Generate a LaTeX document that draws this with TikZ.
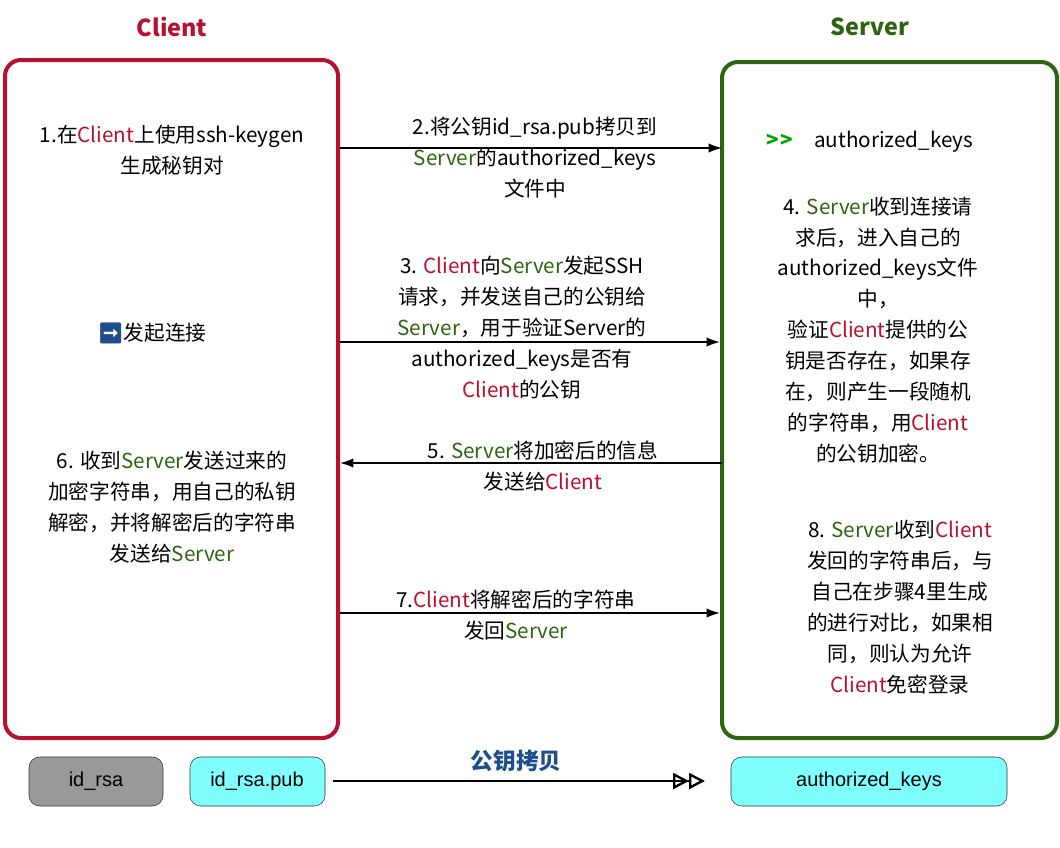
\documentclass[tikz,border=0pt]{standalone}
\usepackage{fontspec}
\setmainfont{Noto Sans CJK SC}
\newfontfamily\emo{Noto Emoji}
\newfontfamily\arialf{Liberation Sans}
\usetikzlibrary{arrows.meta}
\definecolor{cred}{HTML}{B8102E}
\definecolor{cgreen}{HTML}{2E6410}
\definecolor{ccyan}{HTML}{80FFFF}
\definecolor{cblue}{HTML}{1F4E8C}
\newcommand{\cl}{\textcolor{cred}{Client}}
\newcommand{\sv}{\textcolor{cgreen}{Server}}
\begin{document}
\begin{tikzpicture}[x=0.75pt,y=-0.75pt,
  txt/.style={align=center,font=\fontsize{15.5pt}{23.2pt}\selectfont,inner sep=0pt},
  title/.style={font=\fontsize{17.5pt}{20pt}\selectfont\bfseries},
  sidebox/.style={line width=3pt,rounded corners=12pt},
  conn/.style={-{Latex[length=10pt,width=7pt]},line width=1.2pt},
  keybox/.style={draw=black!80,rounded corners=8pt,font=\arialf\fontsize{15pt}{17pt}\selectfont}]
\useasboundingbox (0,0) rectangle (1060,847);
\node[title,text=cred] (ct) at (172,27) {Client};
\node[title,text=cgreen] (st) at (870,27) {Server};
\draw[sidebox,draw=cred] (5,60) rectangle (338,738);
\draw[sidebox,draw=cgreen] (722,62) rectangle (1057,738);
\node[txt] (t1) at (172,150) {1.在\cl{}上使用ssh-keygen\\生成秘钥对};
\node[txt] (t0) at (152,333) {\textcolor{cblue}{\emo ➡}发起连接};
\node[txt] (t6) at (172,507) {6. 收到\sv{}发送过来的\\加密字符串，用自己的私钥\\解密，并将解密后的字符串\\发送给\sv};
\node[txt] (tk) at (870,142) {\textcolor{green!65!black}{\textbf{>\kern1pt>}}\quad authorized\_keys};
\node[txt] (t4) at (878,330) {4. \sv{}收到连接请\\求后，进入自己的\\authorized\_keys文件\\中，\\验证\cl{}提供的公\\钥是否存在，如果存\\在，则产生一段随机\\的字符串，用\cl\\的公钥加密。};
\node[txt] (t8) at (900,607) {8. \sv{}收到\cl\\发回的字符串后，与\\自己在步骤4里生成\\的进行对比，如果相\\同，则认为允许\\\cl{}免密登录};
\coordinate (a2s) at (340,148); \coordinate (a2e) at (722,148);
\draw[conn] (a2s) -- (a2e);
\node[txt] (l2) at (535,158) {2.将公钥id\_rsa.pub拷贝到\\\sv{}的authorized\_keys\\文件中};
\coordinate (a3s) at (340,342); \coordinate (a3e) at (720,342);
\draw[conn] (a3s) -- (a3e);
\node[txt] (l3) at (522,328) {3. \cl{}向\sv{}发起SSH\\请求，并发送自己的公钥给\\\sv{}，用于验证Server的\\authorized\_keys是否有\\\cl{}的公钥};
\coordinate (a5s) at (722,463); \coordinate (a5e) at (340,463);
\draw[conn] (a5s) -- (a5e);
\node[txt] (l5) at (543,466) {5. \sv{}将加密后的信息\\发送给\cl};
\coordinate (a7s) at (340,613); \coordinate (a7e) at (720,613);
\draw[conn] (a7s) -- (a7e);
\node[txt] (l7) at (516,615) {7.\cl{}将解密后的字符串\\发回\sv};
\path[keybox,fill=black!40] (29,757) rectangle (163,806);
\node[keybox,draw=none] (k1) at (96,781) {id\_rsa};
\path[keybox,fill=ccyan] (190,757) rectangle (325,806);
\node[keybox,draw=none] (k2) at (257,781) {id\_rsa.pub};
\path[keybox,fill=ccyan] (731,757) rectangle (1007,806);
\node[keybox,draw=none] (k3) at (869,781) {authorized\_keys};
\draw[line width=1.8pt,-{Triangle[open,length=12pt,width=12pt]Triangle[open,length=12pt,width=12pt]}] (333,781) -- (705,781);
\node[text=cblue,font=\fontsize{17pt}{20pt}\selectfont\bfseries] (lk) at (516,761) {公钥拷贝};
\end{tikzpicture}
\end{document}
